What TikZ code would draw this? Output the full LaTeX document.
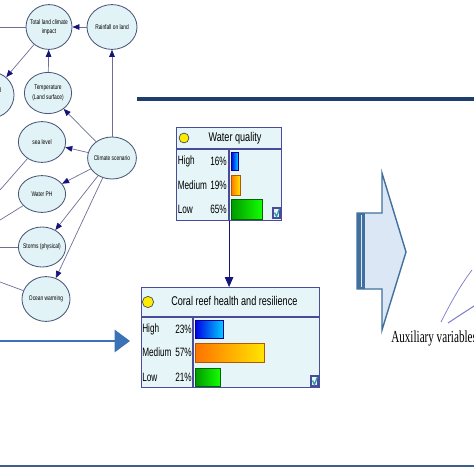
\documentclass[tikz,border=0pt]{standalone}
\usepackage{fontspec}
\setmainfont{Liberation Sans}[FakeStretch=0.72]
\newfontfamily\rowfont{Liberation Sans}[FakeStretch=0.68]
\newfontfamily\auxfont{Liberation Serif}[FakeStretch=0.66]
\usetikzlibrary{arrows.meta,positioning,shapes.geometric}
\definecolor{nodefill}{HTML}{E2F3F8}
\definecolor{nodeline}{HTML}{4A5878}
\definecolor{linkgray}{HTML}{6E6E96}
\definecolor{tipnavy}{HTML}{14147A}
\definecolor{cptfill}{HTML}{E6F5F7}
\definecolor{cptline}{HTML}{4B4B9B}
\definecolor{rulenavy}{HTML}{1E3C6C}
\definecolor{rulesteel}{HTML}{3C5F8C}
\definecolor{flowblue}{HTML}{3B72B5}
\definecolor{blockfill}{HTML}{DBE7F4}
\definecolor{blockline}{HTML}{41709F}
\definecolor{auxpurple}{HTML}{7A7AC8}
\definecolor{checkteal}{HTML}{2A9AA0}

\begin{document}
\begin{tikzpicture}[x=0.025cm, y=-0.025cm,
  every node/.style={inner sep=0pt},
  var/.style={ellipse, draw=nodeline, fill=nodefill, line width=0.6pt,
    inner xsep=-4pt, align=center, font=\fontsize{4.8}{6.6}\selectfont},
  link/.style={draw=linkgray, line width=0.5pt},
  arr/.style={link, -{Triangle[length=5pt, width=4pt, color=tipnavy]}},
  cpt/.style={draw=cptline, fill=cptfill, line width=0.8pt, anchor=north west},
  cptrule/.style={draw=cptline, line width=0.8pt},
  title/.style={font=\fontsize{9}{10}\selectfont},
  row/.style={font=\rowfont\fontsize{8.6}{10}\selectfont},
  bulb/.style={circle, draw=black!70, fill=yellow!95!orange, line width=0.5pt,
    minimum size=7pt},
  chk/.style={draw=cptline, fill=cptfill, line width=0.8pt},
  tick/.style={draw=checkteal, line width=0.9pt}
]
\useasboundingbox (0,0) rectangle (474,474);
\clip (0,0) rectangle (474,474);

\node[var, minimum width=1.15cm, minimum height=1.12cm] (total) at (49,27) {Total land climate\\impact};
\node[var, minimum width=1.25cm, minimum height=1.12cm] (rain) at (112,27) {Rainfall on land};
\node[var, minimum width=1.15cm, minimum height=1.15cm, align=right] (land) at (-9,95) {Land and\\ocean\hspace*{1pt}};
\node[var, minimum width=1.18cm, minimum height=1.03cm] (temp) at (48,93) {Temperature\\(Land surface)};
\node[var, minimum width=1.18cm, minimum height=1.02cm] (sea) at (42,142) {sea level};
\node[var, minimum width=1.22cm, minimum height=1.05cm] (climate) at (112,158) {Climate scenario};
\node[var, minimum width=1.18cm, minimum height=0.92cm] (ph) at (42,194) {Water PH};
\node[var, minimum width=1.18cm, minimum height=1.0cm] (storms) at (42,247) {Storms (physical)};
\node[var, minimum width=1.2cm, minimum height=1.12cm] (ocean) at (46,299) {Ocean warming};

\coordinate (e1) at (0,27);
\coordinate (e2) at (0,190);
\coordinate (e3) at (0,220);
\coordinate (e4) at (0,247);
\coordinate (e5) at (0,282);

\draw[link] (total) -- (e1);
\draw[link] (sea) -- (e2);
\draw[link] (ph) -- (e3);
\draw[link] (storms) -- (e4);
\draw[link] (ocean) -- (e5);
\draw[arr] (rain) -- (total);
\draw[arr] (total) -- (land);
\draw[arr] (temp) -- (total);
\draw[arr] (climate) -- (rain);
\draw[arr] (climate) -- (temp);
\draw[arr] (climate) -- (sea);
\draw[arr] (climate) -- (ph);
\draw[arr] (climate) -- (storms);
\draw[arr] (climate) -- (ocean);

\coordinate (r1a) at (137,99);
\coordinate (r1b) at (474,99);
\draw[rulenavy, line width=2.2pt] (r1a) -- (r1b);
\coordinate (r2a) at (0,466);
\coordinate (r2b) at (474,466);
\draw[rulesteel, line width=2pt] (r2a) -- (r2b);

\node[cpt, minimum width=2.625cm, minimum height=2.325cm] (wq) at (176,127) {};
\draw[cptrule] (176,149) -- (281,149);
\draw[cptrule] (229,149) -- (229,220);
\node[bulb] (wqbulb) at (184,138) {};
\node[title] (wqtitle) at (235,138) {Water quality};
\node[row, anchor=west] (wqhigh) at (177.5,161) {High};
\node[row, anchor=east] (wqhighp) at (227,161) {16\%};
\node[row, anchor=west] (wqmed) at (177.5,185) {Medium};
\node[row, anchor=east] (wqmedp) at (227,185) {19\%};
\node[row, anchor=west] (wqlow) at (177.5,209) {Low};
\node[row, anchor=east] (wqlowp) at (227,209) {65\%};
\shade[left color=blue!90!black, right color=cyan!80!blue, draw=blue!60!black, line width=0.3pt] (231,152) rectangle (238,170);
\shade[left color=orange!90!red, right color=yellow!80!orange, draw=orange!70!black, line width=0.3pt] (231,175) rectangle (240,195);
\shade[left color=green!60!black, right color=green!90!lime, draw=green!40!black, line width=0.3pt] (231,199) rectangle (262,219);
\draw[chk] (273,208) rectangle (280,218);
\draw[tick] (274.5,212.5) -- (276.5,216.5) -- (279.5,209);

\node[cpt, minimum width=4.45cm, minimum height=2.5cm] (coral) at (141,287) {};
\draw[cptrule] (141,317) -- (319,317);
\draw[cptrule] (193,317) -- (193,387);
\node[bulb, minimum size=8pt] (coralbulb) at (148,302) {};
\node[title, anchor=west] (coraltitle) at (171,301) {Coral reef health and resilience};
\node[row, anchor=west] (coralhigh) at (142,329) {High};
\node[row, anchor=east] (coralhighp) at (192,329) {23\%};
\node[row, anchor=west] (coralmed) at (142,352) {Medium};
\node[row, anchor=east] (coralmedp) at (192,352) {57\%};
\node[row, anchor=west] (corallow) at (142,377) {Low};
\node[row, anchor=east] (corallowp) at (192,377) {21\%};
\shade[left color=blue!90!black, right color=cyan!80!blue, draw=blue!60!black, line width=0.3pt] (195,320) rectangle (223,338);
\shade[left color=orange!90!red, right color=yellow!80!orange, draw=orange!70!black, line width=0.3pt] (195,343) rectangle (264,362);
\shade[left color=green!60!black, right color=green!90!lime, draw=green!40!black, line width=0.3pt] (195,368) rectangle (220,386);
\draw[chk] (311,376) rectangle (318,386);
\draw[tick] (312.5,380.5) -- (314.5,384.5) -- (317.5,377);

\draw[tipnavy, line width=0.6pt, -{Triangle[length=7pt, width=6pt]}] (wq.south) -- (wq.south |- coral.north);

\coordinate (src) at (0,341);
\coordinate (tip) at (130,341);
\draw[flowblue, line width=1.2pt, -{Triangle[length=11pt, width=16pt]}] (src) -- (tip);

\filldraw[fill=blockfill, draw=blockline, line width=1pt]
  (357,213) -- (382,213) -- (382,173) -- (406,252) -- (382,330) -- (382,289) -- (357,289) -- cycle;
\fill[blockline] (357,213) rectangle (365,289);
\draw[blockfill, line width=0.6pt] (361.5,215) -- (361.5,287);

\node[font=\auxfont\fontsize{12}{14}\selectfont, anchor=west] (aux) at (391,338) {Auxiliary variables};
\coordinate (a1) at (441,322);
\coordinate (a2) at (472,270);
\coordinate (a3) at (448,323);
\coordinate (a4) at (474,306);
\draw[auxpurple, line width=0.5pt] (a1) .. controls (452,300) and (462,283) .. (a2);
\draw[auxpurple, line width=0.7pt] (a3) .. controls (460,315) and (468,310) .. (a4);
\end{tikzpicture}
\end{document}
